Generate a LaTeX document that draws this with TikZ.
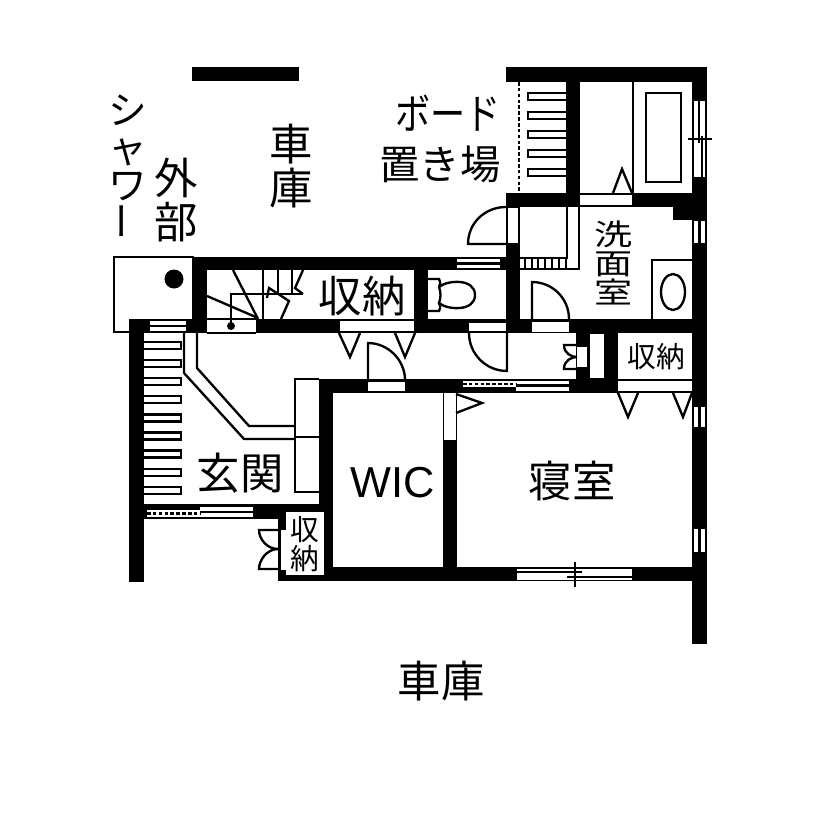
\documentclass[tikz,border=0pt]{standalone}
\usepackage{fontspec}
\setmainfont{Noto Sans CJK JP}
\newfontfamily\latinfont{Liberation Sans}
\usepackage{tikz}
\begin{document}
\begin{tikzpicture}[
    x=0.03cm, y=-0.03cm,
    wall/.style={fill=black},
    gap/.style={fill=white},
    thinline/.style={draw=black, line width=2pt},
    dashline/.style={thinline, dash pattern=on 3pt off 2pt},
    bigtext/.style={inner sep=0pt, font=\fontsize{37}{37}\selectfont},
    midtext/.style={inner sep=0pt, font=\fontsize{25}{25}\selectfont},
    smalltext/.style={inner sep=0pt, font=\fontsize{24.5}{24.5}\selectfont}
]
    \useasboundingbox (0,0) rectangle (840,840);
    % outer box by the shower
    \draw[thinline] (114,257) rectangle (193,332);
    \fill (174,279) circle (9.5);
    % walls
    \fill[wall] (192,67) rectangle (299,81);
    \fill[wall] (506,67) rectangle (707,82);
    \fill[wall] (692,67) rectangle (707,644);
    \fill[wall] (566,82) rectangle (580,193);
    \fill[wall] (506,193) rectangle (692,207);
    \fill[wall] (673,207) rectangle (692,220);
    \fill[wall] (506,193) rectangle (520,333);
    \fill[wall] (193,257) rectangle (506,270);
    \fill[wall] (193,257) rectangle (207,333);
    \fill[wall] (414,257) rectangle (428,333);
    \fill[wall] (129,319) rectangle (144,582);
    \fill[wall] (129,319) rectangle (207,333);
    \fill[wall] (256,319) rectangle (692,333);
    \fill[wall] (576,333) rectangle (618,393);
    \fill[wall] (319,379) rectangle (692,393);
    \fill[wall] (319,379) rectangle (333,581);
    \fill[wall] (443,393) rectangle (457,567);
    \fill[wall] (278,567) rectangle (692,581);
    \fill[wall] (144,504) rectangle (319,519);
    \fill[wall] (278,504) rectangle (286,581);
    % openings in the walls
    \fill[gap] (580,195) rectangle (632,205);
    \fill[gap] (508,208) rectangle (518,243);
    \fill[gap] (457,259) rectangle (500,268);
    \fill[gap] (150,321) rectangle (186,331);
    \fill[gap] (340,321) rectangle (414,331);
    \fill[gap] (469,323) rectangle (506,331);
    \fill[gap] (532,322) rectangle (569,332);
    \fill[gap] (590,334) rectangle (604,378);
    \fill[gap] (577,347) rectangle (587,367);
    \fill[gap] (618,381) rectangle (692,391);
    \fill[gap] (368,382) rectangle (405,391);
    \fill[gap] (463,381) rectangle (516,387);
    \fill[gap] (516,381) rectangle (569,391);
    \fill[gap] (444,393) rectangle (456,440);
    \fill[gap] (517,569) rectangle (632,580);
    \fill[gap] (147,510) rectangle (200,517);
    \fill[gap] (200,507) rectangle (253,517);
    \fill[gap] (286,512) rectangle (324,575);
    \fill[gap] (281,530) rectangle (286,570);
    \foreach \ya/\yb in {101/177, 221/243, 407/427, 529/552}
        \fill[gap] (694,\ya) rectangle (705,\yb);
    \foreach \ya/\yb in {221/243, 407/427, 529/552}
        \draw[thinline] (699.5,\ya) -- (699.5,\yb);
    % thin lines in the openings
    \draw[thinline] (150,326) -- (186,326);
    \draw[thinline] (457,263.5) -- (500,263.5);
    \draw[thinline] (516,385.5) -- (569,385.5);
    \draw[dashline] (463,384) -- (516,384);
    \draw[thinline] (200,512) -- (253,512);
    \draw[dashline] (147,513.5) -- (200,513.5);
    \draw[thinline] (517,572) -- (582,572);
    \draw[thinline] (567,577) -- (632,577);
    \draw[thinline] (575,562) -- (575,587);
    \draw[thinline] (699,101) -- (699,143);
    \draw[thinline] (702,136) -- (702,177);
    \draw[thinline] (688,139) -- (712,139);
    % bath
    \draw[thinline] (633,82) -- (633,193);
    \draw[thinline] (646,93) rectangle (681,182);
    \draw[thinline] (613,193) -- (622,169) -- (632,193);
    % board shelves
    \foreach \y in {93,112,131,150,169}
        \draw[thinline] (566,\y) -- (528,\y) -- (528,\y+7) -- (566,\y+7);
    \draw[dashline] (519,82) -- (519,193);
    % doors
    \draw[thinline] (506,207) .. controls (485,207) and (468,223) .. (468,244) -- (506,244);
    \draw[thinline] (532,319) -- (532,282) .. controls (552,282) and (569,298) .. (569,319);
    \draw[thinline] (469,333) .. controls (469,354) and (486,371) .. (507,371) -- (507,333);
    \draw[thinline] (368,382) -- (368,343) .. controls (388,343) and (405,360) .. (405,380);
    % sink and toilet
    \draw[thinline] (652,319) -- (652,260) -- (692,260);
    \draw[thinline] (673,292) ellipse (12 and 18);
    \draw[thinline] (428,279) -- (439,279) .. controls (441,283) and (440,285) .. (439,287);
    \draw[thinline] (428,311) -- (439,311) .. controls (441,307) and (440,305) .. (439,303);
    \draw[thinline] (439,287) .. controls (447,280) and (475,278) .. (475,295) .. controls (475,312) and (447,310) .. (439,303) .. controls (441,298) and (441,292) .. (439,287);
    % closet above the wash room
    \draw[thinline] (567,207) -- (567,258) -- (520,258);
    \fill (520,268) rectangle (580,270);
    \fill (578,207) rectangle (580,270);
    \foreach \x in {525,532,538,545,552,559,566}
        \draw[thinline] (\x,258) -- (\x,269);
    % stairs
    \draw[thinline] (207,319) -- (258,319);
    \draw[thinline] (207,333) -- (256,333);
    \draw[thinline] (233,270) -- (258,319);
    \draw[thinline] (207,296) -- (258,318);
    \draw[thinline] (263,270) -- (263,319);
    \draw[thinline] (278,270) -- (278,293);
    \draw[thinline] (292,270) -- (292,294);
    \draw[thinline] (231,326) -- (231,294) -- (303,294);
    \draw[thinline] (267,298) -- (269,288) -- (289,301) -- (281,319);
    \draw[thinline] (303,270) -- (295,288) -- (303,294);
    \fill (231,326) circle (4);
    % hand rail and step
    \draw[thinline] (184,333) -- (184,373) -- (244,439) -- (295,439);
    \draw[thinline] (197,333) -- (197,368) -- (249,426) -- (295,426);
    \draw[thinline] (319,379) -- (295,379) -- (295,492) -- (319,492);
    \draw[thinline] (295,437) -- (319,437);
    % entrance shelves
    \foreach \i in {0,...,8}
        \draw[thinline] (144,342+18.1*\i) -- (181,342+18.1*\i) -- (181,349+18.1*\i) -- (144,349+18.1*\i);
    % closet doors
    \foreach \xa/\xb/\ya/\ym/\yb in {259/278/530/549/569, 564/577/345/357/369} {
        \draw[thinline] (\xb,\ya) -- (\xa,\ya) .. controls (\xa,\ya+9) and (\xa+8,\ym) .. (\xb,\ym);
        \draw[thinline] (\xb,\yb) -- (\xa,\yb) .. controls (\xa,\yb-9) and (\xa+8,\ym) .. (\xb,\ym);
    }
    \draw[thinline] (339,333) -- (350,357) -- (360,333);
    \draw[thinline] (395,333) -- (405,357) -- (415,333);
    \draw[thinline] (618,393) -- (628,417) -- (638,393);
    \draw[thinline] (673,393) -- (683,417) -- (692,393);
    \draw[thinline] (456,394) -- (482,403) -- (456,413);
    % labels
    \node[bigtext, align=center, font=\fontsize{33}{32}\selectfont] (shower) at (128,168) {シ\\ャ\\ワ\\\rotatebox{90}{ー}};
    \node[bigtext, align=center] (outside) at (176,200) {外\\部};
    \node[bigtext, align=center] (garageup) at (291,166) {車\\庫};
    \node[bigtext, font=\fontsize{30}{30}\selectfont] (board) at (448,113) {\scalebox{1}[1.2]{ボード}};
    \node[bigtext, font=\fontsize{34.5}{34.5}\selectfont] (place) at (440,164) {置き場};
    \node[bigtext] (stairstore) at (362,296) {収納};
    \node[midtext, align=center] (wash) at (614,263) {\scalebox{1.3}[1]{洗}\\\scalebox{1.3}[1]{面}\\\scalebox{1.3}[1]{室}};
    \node[smalltext] (rightstore) at (656,357) {収納};
    \node[bigtext] (bedroom) at (572,481) {寝室};
    \node[bigtext, font=\latinfont\fontsize{37}{37}\selectfont] (wic) at (393,483) {WIC};
    \node[bigtext] (entrance) at (240,473) {玄関};
    \node[smalltext, align=center] (lowstore) at (305,544) {収\\納};
    \node[bigtext] (garage) at (441,681) {車庫};
\end{tikzpicture}
\end{document}
